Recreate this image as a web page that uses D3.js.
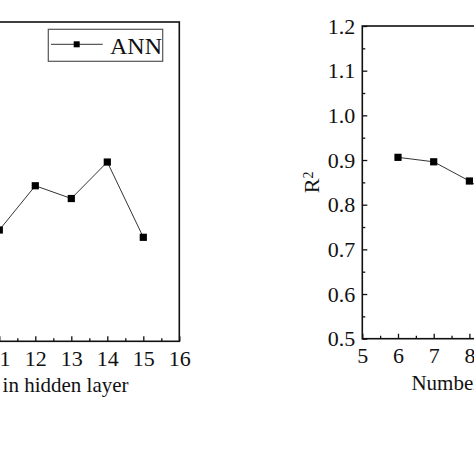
<!DOCTYPE html>
<html>
<head>
<meta charset="utf-8">
<script src="https://cdn.jsdelivr.net/npm/d3@7"></script>
<style>
  body { margin: 0; background: #fff; }
  svg text { font-family: "Liberation Serif", "Times New Roman", serif; fill: #111; }
</style>
</head>
<body>
<svg id="chart" width="474" height="474"></svg>
<script>
// left sub-figure (only the right half is in view)
var leftNeurons = [11, 12, 13, 14, 15];
var leftR2 = [0.744, 0.841, 0.813, 0.893, 0.728];

// right sub-figure (only the left half is in view)
var rightNeurons = [6, 7, 8, 9];
var rightR2 = [0.906, 0.896, 0.853, 0.80];

var xTicks = [5, 6, 7, 8, 9, 10, 11, 12, 13, 14, 15, 16];
var yTicks = [0.5, 0.6, 0.7, 0.8, 0.9, 1.0, 1.1, 1.2];
var xLabel = "Number of neurons in hidden layer";
var seriesName = "ANN";

var svg = d3.select("#chart");

function drawPanel(p) {
    var x = d3.scaleLinear().domain([5, 16]).range([p.left, p.right]);
    var y = d3.scaleLinear().domain([0.5, 1.2]).range([p.bottom, p.top]);
    var g = svg.append("g");

    // minor ticks first
    g.append("g")
      .attr("transform", "translate(0," + p.bottom + ")")
      .call(d3.axisBottom(x).tickValues(d3.range(5.5, 16, 1)).tickSize(-3).tickFormat(""))
      .call(a => a.select(".domain").remove());
    g.append("g")
      .attr("transform", "translate(" + p.left + ",0)")
      .call(d3.axisLeft(y).tickValues(d3.range(0.55, 1.2, 0.1)).tickSize(-3).tickFormat(""))
      .call(a => a.select(".domain").remove());

    // major ticks + labels
    var xa = g.append("g")
      .attr("transform", "translate(0," + p.bottom + ")")
      .call(d3.axisBottom(x).tickValues(xTicks).tickSize(-5).tickPadding(9).tickFormat(d3.format("d")));
    xa.select(".domain").remove();
    xa.selectAll("text").style("font-size", "22px").attr("dy", "0.71em");

    var ya = g.append("g")
      .attr("transform", "translate(" + p.left + ",0)")
      .call(d3.axisLeft(y).tickValues(yTicks).tickSize(-5).tickPadding(7).tickFormat(d3.format(".1f")));
    ya.select(".domain").remove();
    ya.selectAll("text").style("font-size", "22px");

    g.selectAll(".tick line").attr("stroke", "#111").attr("stroke-width", 1.3);

    // frame
    g.append("rect")
      .attr("x", p.left).attr("y", p.top)
      .attr("width", p.right - p.left).attr("height", p.bottom - p.top)
      .attr("fill", "none").attr("stroke", "#111").attr("stroke-width", 1.6);

    // axis titles
    g.append("text")
      .attr("x", (p.left + p.right) / 2)
      .attr("y", p.bottom + 51)
      .attr("text-anchor", "middle")
      .style("font-size", "21px")
      .text(xLabel);

    var yt = g.append("text")
      .attr("transform", "translate(" + (p.left - 43) + "," + ((p.top + p.bottom) / 2) + ") rotate(-90)")
      .attr("text-anchor", "middle")
      .style("font-size", "22px");
    yt.append("tspan").text("R");
    yt.append("tspan").attr("dy", "-0.45em").style("font-size", "14px").text("2");

    // series
    var pts = p.xs.map((d, i) => [d, p.ys[i]]);
    g.append("path")
      .datum(pts)
      .attr("fill", "none")
      .attr("stroke", "#333")
      .attr("stroke-width", 1)
      .attr("d", d3.line().x(d => x(d[0])).y(d => y(d[1])));

    g.selectAll(".pt")
      .data(pts)
      .enter().append("rect")
      .attr("class", "pt")
      .attr("x", d => x(d[0]) - 3.6)
      .attr("y", d => y(d[1]) - 3.6)
      .attr("width", 7.2)
      .attr("height", 7.2)
      .attr("fill", "#000");

    return g;
}

var leftG = drawPanel({left: -216.7, right: 179.3, top: 22, bottom: 341.3, xs: leftNeurons, ys: leftR2});
drawPanel({left: 362.3, right: 755, top: 26, bottom: 338.7, xs: rightNeurons, ys: rightR2});

// legend in the left panel
var leg = leftG.append("g");
leg.append("rect")
  .attr("x", 48.3).attr("y", 29.3).attr("width", 114.4).attr("height", 32)
  .attr("fill", "#fff").attr("stroke", "#555").attr("stroke-width", 1.2);
leg.append("line")
  .attr("x1", 51).attr("x2", 102.7).attr("y1", 44.3).attr("y2", 44.3)
  .attr("stroke", "#333").attr("stroke-width", 1);
leg.append("rect")
  .attr("x", 73.7).attr("y", 41.3).attr("width", 6).attr("height", 6).attr("fill", "#000");
leg.append("text")
  .attr("x", 110).attr("y", 54)
  .style("font-size", "24px")
  .text(seriesName);
</script>
</body>
</html>
